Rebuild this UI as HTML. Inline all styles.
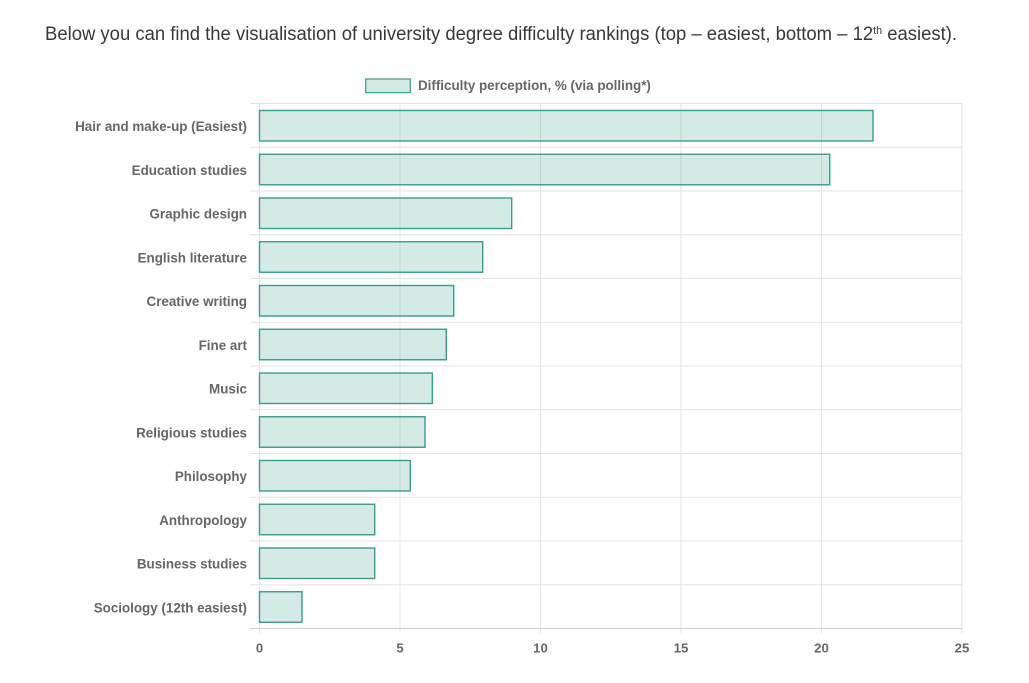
<!DOCTYPE html>
<html><head><meta charset="utf-8"><style>
html,body{margin:0;padding:0;background:#fff;}
svg{display:block;}
</style></head><body>
<svg width="1029" height="683" viewBox="0 0 1029 683" xmlns="http://www.w3.org/2000/svg">
<rect width="1029" height="683" fill="#fff"/>
<text x="45" y="40" font-family="Liberation Sans, sans-serif" font-size="19" fill="#383838" textLength="912" lengthAdjust="spacingAndGlyphs">Below you can find the visualisation of university degree difficulty rankings (top – easiest, bottom – 12<tspan font-size="11" dy="-6">th</tspan><tspan dy="6"> easiest).</tspan></text>

<!-- legend -->
<rect x="365.7" y="79" width="44.6" height="13.6" fill="#d3eae6" stroke="#48a090" stroke-width="1.3"/>
<text x="418" y="90" font-family="Liberation Sans, sans-serif" font-size="13.4" font-weight="bold" fill="#666">Difficulty perception, % (via polling*)</text>

<!-- gridlines -->
<g stroke="#e3e3e3" stroke-width="1">
<line x1="250" y1="103.5" x2="962" y2="103.5"/>
<line x1="250" y1="147.25" x2="962" y2="147.25"/>
<line x1="250" y1="191" x2="962" y2="191"/>
<line x1="250" y1="234.75" x2="962" y2="234.75"/>
<line x1="250" y1="278.5" x2="962" y2="278.5"/>
<line x1="250" y1="322.25" x2="962" y2="322.25"/>
<line x1="250" y1="366" x2="962" y2="366"/>
<line x1="250" y1="409.75" x2="962" y2="409.75"/>
<line x1="250" y1="453.5" x2="962" y2="453.5"/>
<line x1="250" y1="497.25" x2="962" y2="497.25"/>
<line x1="250" y1="541" x2="962" y2="541"/>
<line x1="250" y1="584.75" x2="962" y2="584.75"/>
<line x1="259.5" y1="103.5" x2="259.5" y2="633"/>
<line x1="400" y1="103.5" x2="400" y2="633"/>
<line x1="540.5" y1="103.5" x2="540.5" y2="633"/>
<line x1="681" y1="103.5" x2="681" y2="633"/>
<line x1="821.5" y1="103.5" x2="821.5" y2="633"/>
<line x1="962" y1="103.5" x2="962" y2="633"/>
</g>
<line x1="250" y1="628.5" x2="962" y2="628.5" stroke="#cfcfcf" stroke-width="1"/>

<!-- bars -->
<g fill="rgba(36,150,130,0.2)" stroke="#3f9a8a" stroke-width="1.4">
<rect x="259.5" y="110.5" width="613.5" height="30.5"/>
<rect x="259.5" y="154.25" width="570.2" height="30.5"/>
<rect x="259.5" y="198" width="252.2" height="30.5"/>
<rect x="259.5" y="241.75" width="223.2" height="30.5"/>
<rect x="259.5" y="285.5" width="194.2" height="30.5"/>
<rect x="259.5" y="329.25" width="186.8" height="30.5"/>
<rect x="259.5" y="373" width="172.8" height="30.5"/>
<rect x="259.5" y="416.75" width="165.5" height="30.5"/>
<rect x="259.5" y="460.5" width="150.8" height="30.5"/>
<rect x="259.5" y="504.25" width="115.2" height="30.5"/>
<rect x="259.5" y="548" width="115.2" height="30.5"/>
<rect x="259.5" y="591.75" width="42.5" height="30.5"/>
</g>

<!-- y labels -->
<g font-family="Liberation Sans, sans-serif" font-size="13.4" font-weight="bold" fill="#666" text-anchor="end">
<text x="247" y="131">Hair and make-up (Easiest)</text>
<text x="247" y="174.75">Education studies</text>
<text x="247" y="218.5">Graphic design</text>
<text x="247" y="262.25">English literature</text>
<text x="247" y="306">Creative writing</text>
<text x="247" y="349.75">Fine art</text>
<text x="247" y="393.5">Music</text>
<text x="247" y="437.25">Religious studies</text>
<text x="247" y="481">Philosophy</text>
<text x="247" y="524.75">Anthropology</text>
<text x="247" y="568.5">Business studies</text>
<text x="247" y="612.25">Sociology (12th easiest)</text>
</g>

<!-- x labels -->
<g font-family="Liberation Sans, sans-serif" font-size="13.2" font-weight="bold" fill="#666" text-anchor="middle">
<text x="259.5" y="652.7">0</text>
<text x="400" y="652.7">5</text>
<text x="540.5" y="652.7">10</text>
<text x="681" y="652.7">15</text>
<text x="821.5" y="652.7">20</text>
<text x="962" y="652.7">25</text>
</g>
</svg>
</body></html>
